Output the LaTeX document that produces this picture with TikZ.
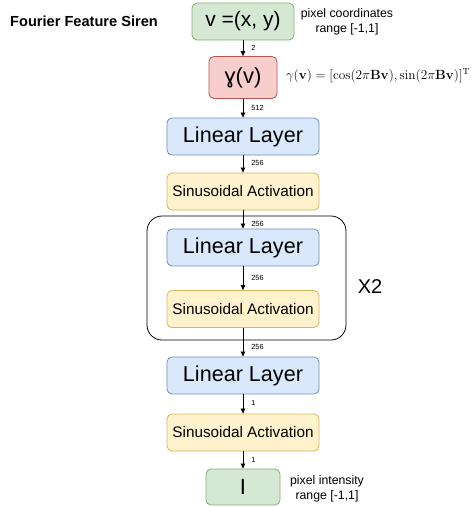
\documentclass[tikz,border=0pt]{standalone}
\usepackage[no-math]{fontspec}
\setmainfont{Liberation Sans}
\usetikzlibrary{arrows.meta}
\definecolor{grfill}{HTML}{D5E8D4}
\definecolor{grdraw}{HTML}{82B366}
\definecolor{rdfill}{HTML}{F8CECC}
\definecolor{rddraw}{HTML}{B85450}
\definecolor{blfill}{HTML}{DAE8FC}
\definecolor{bldraw}{HTML}{6C8EBF}
\definecolor{ylfill}{HTML}{FFF2CC}
\definecolor{yldraw}{HTML}{D6B656}
\tikzset{
    layer/.style={draw, rounded corners=5pt, line width=0.8pt, minimum width=152pt, minimum height=37pt, inner sep=0pt},
    linbox/.style={layer, fill=blfill, draw=bldraw, font=\fontsize{21.6}{24}\selectfont},
    actbox/.style={layer, fill=ylfill, draw=yldraw, font=\fontsize{15.3}{18}\selectfont},
    arr/.style={-{Triangle[length=5pt,width=4.5pt]}, line width=0.7pt},
    dimlab/.style={font=\fontsize{7.4}{8}\selectfont, anchor=west, xshift=7pt, inner sep=1pt},
    note/.style={align=center, font=\fontsize{12.3}{15}\selectfont}
}
\begin{document}
\begin{tikzpicture}[x=1pt,y=-1pt]
        \useasboundingbox (0,0) rectangle (474,507);
        \node[draw, rounded corners=15pt, line width=0.8pt, minimum width=199pt, minimum height=124pt] (rep) at (246.5,278) {};
        \node[font=\fontsize{20}{22}\selectfont] (times) at (370,287) {X2};

        \node[font=\bfseries\fontsize{14.6}{17}\selectfont] (title) at (84,21) {Fourier Feature Siren};
        \node[layer, fill=grfill, draw=grdraw, minimum width=102pt, font=\fontsize{21}{24}\selectfont] (v) at (243,21.5) {v =(x, y)};
        \node[note] (vnote) at (347,22) {pixel coordinates\\range [-1,1]};
        \node[layer, fill=rdfill, draw=rddraw, minimum width=68pt, minimum height=42pt, font=\fontsize{22}{24}\selectfont] (g) at (243,77.5) {ɣ(v)};
        \node[anchor=west, inner sep=0pt, font=\fontsize{12}{14}\selectfont] (gform) at (286,76) {\scalebox{1.11}{$\gamma(\mathbf{v}) = [\cos(2\pi\mathbf{B}\mathbf{v}), \sin(2\pi\mathbf{B}\mathbf{v})]^{\mathrm{T}}$}};

        \foreach \nm/\yy/\sty/\txt in {lin1/136.5/linbox/Linear Layer, act1/191.5/actbox/Sinusoidal Activation,
                lin2/247.5/linbox/Linear Layer, act2/309/actbox/Sinusoidal Activation,
                lin3/375.5/linbox/Linear Layer, act3/432.5/actbox/Sinusoidal Activation}
            \node[\sty] (\nm) at (243,\yy) {\txt};

        \node[layer, fill=grfill, draw=grdraw, minimum width=74pt, minimum height=36pt, font=\fontsize{22}{24}\selectfont] (out) at (243,487) {I};
        \node[note] (outnote) at (327,488.5) {pixel intensity\\range [-1,1]};

        \foreach \a/\b/\lab/\p in {v/g/2/0.47, g/lin1/512/0.47, lin1/act1/256/0.45, act1/lin2/256/0.72,
                lin2/act2/256/0.48, act2/lin3/256/0.68, lin3/act3/1/0.45, act3/out/1/0.5}
            \draw[arr] (\a) -- node[dimlab, pos=\p] {\lab} (\b);
    \end{tikzpicture}
\end{document}
